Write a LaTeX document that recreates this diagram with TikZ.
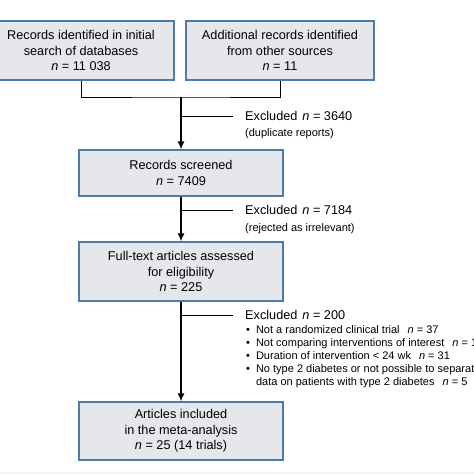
\documentclass[tikz,border=0pt]{standalone}
\usepackage{fontspec}
\setmainfont{Liberation Sans}
\usetikzlibrary{arrows.meta}
\definecolor{boxblue}{HTML}{4F7BAA}
\definecolor{boxgray}{HTML}{E5E7EA}
\begin{document}
\begin{tikzpicture}[x=1pt,y=-1pt,
  box/.style={draw=boxblue, fill=boxgray, line width=1.1pt, align=center, inner sep=0pt,
    font=\fontsize{12.7}{15.7}\selectfont},
  flow/.style={line width=1.5pt, -{Latex[length=8pt,width=7pt]}},
  joinline/.style={line width=1pt},
  exc/.style={anchor=base west, inner sep=0pt, font=\fontsize{12.7}{15.7}\selectfont},
  excsub/.style={anchor=base west, inner sep=0pt, font=\fontsize{11}{13}\selectfont}]

\useasboundingbox (0,0) rectangle (474,474);
\fill[gray!8] (0,471.5) rectangle (474,474);

\node[box, minimum width=186pt, minimum height=59pt] (b1) at (81,50.5)
  {Records identified in initial\\search of databases\\\textit{n} = 11~038};
\node[box, minimum width=188pt, minimum height=59pt] (b2) at (280,50.5)
  {Additional records identified\\from other sources\\\textit{n} = 11};
\node[box, minimum width=204pt, minimum height=46pt] (b3) at (181,173)
  {Records screened\\\textit{n} = 7409};
\node[box, minimum width=204pt, minimum height=59pt] (b4) at (181,271.5)
  {Full-text articles assessed\\for eligibility\\\textit{n} = 225};
\node[box, minimum width=204pt, minimum height=58pt] (b5) at (181,431)
  {Articles included\\in the meta-analysis\\\textit{n} = 25 (14 trials)};

\coordinate (j) at (181,97);
\draw[joinline] (b1.south) |- (j) -| (b2.south);
\draw[flow] (j) -- (b3.north);
\draw[flow] (b3.south) -- (b4.north);
\draw[flow] (b4.south) -- (b5.north);

\coordinate (x1) at (233,116);
\coordinate (x2) at (233,210);
\coordinate (x3) at (233,315);
\draw[joinline] (x1 -| j) -- (x1);
\draw[joinline] (x2 -| b3.south) -- (x2);
\draw[joinline] (x3 -| b4.south) -- (x3);

\node[exc] (t1) at (245,120.6) {Excluded\hspace{5pt}\textit{n} = 3640};
\node[excsub] (t1b) at (245,136) {(duplicate reports)};
\node[exc] (t2) at (245,214.6) {Excluded\hspace{5pt}\textit{n} = 7184};
\node[excsub] (t2b) at (245,231) {(rejected as irrelevant)};
\node[exc] (t3) at (245,319.6) {Excluded\hspace{5pt}\textit{n} = 200};
\node[anchor=north west, inner sep=0pt, font=\fontsize{11}{13}\selectfont] (t3b) at (246,324.5)
  {\begin{tabular}{@{}l@{\hspace{6pt}}l@{}}
   • & Not a randomized clinical trial\hspace{8pt}\textit{n} = 37\\
   • & Not comparing interventions of interest\hspace{8pt}\textit{n} = 127\\
   • & Duration of intervention < 24 wk\hspace{8pt}\textit{n} = 31\\
   • & No type 2 diabetes or not possible to separate\\
     & data on patients with type 2 diabetes\hspace{8pt}\textit{n} = 5
   \end{tabular}};
\end{tikzpicture}
\end{document}
